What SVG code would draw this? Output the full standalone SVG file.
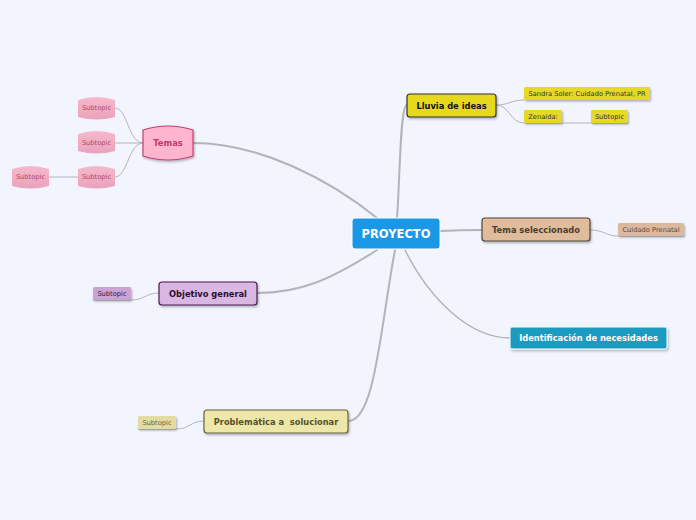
<svg xmlns="http://www.w3.org/2000/svg" width="696" height="520" viewBox="0 0 696 520">
<defs>
<style>
.t{font-family:"DejaVu Sans","Verdana",sans-serif;text-anchor:middle;dominant-baseline:central}
.b{font-weight:bold;font-size:8.3px}
.s{font-size:6.7px}
.c{fill:none;stroke:#b4b4b8;stroke-linecap:round}
</style>
<filter id="sh" x="-10%" y="-10%" width="130%" height="150%"><feDropShadow dx="1" dy="1.5" stdDeviation="0.8" flood-color="#000" flood-opacity="0.3"/></filter>
<linearGradient id="pk" x1="0" y1="0" x2="0" y2="1"><stop offset="0" stop-color="#f7b8cc"/><stop offset="1" stop-color="#e9a3ba"/></linearGradient>
</defs>
<rect width="696" height="520" fill="#f3f5fe"/>
<g id="connectors">
<path class="c" stroke-width="2" d="M377 218 C330 180 260 143 193 143"/>
<path class="c" stroke-width="2" d="M377 250 C330 280 300 293 257 293"/>
<path class="c" stroke-width="2" d="M395 250 C380 330 375 421 348 421"/>
<path class="c" stroke-width="2" d="M397 218 C400 180 400 105 407 105"/>
<path class="c" stroke-width="2" d="M440 231 C460 230 470 230 482 230"/>
<path class="c" stroke-width="1.5" d="M405 250 C430 300 470 338 510 338"/>
<path class="c" stroke-width="1" d="M496 105 C510 105 510 100 524 100"/>
<path class="c" stroke-width="1" d="M496 105 C510 105 510 123 524 123 L628 123"/>
<path class="c" stroke-width="1" d="M590 230 C605 230 605 236 618 236 L684 236"/>
<path class="c" stroke-width="1" d="M143 143 C128 143 128 108 115 108"/>
<path class="c" stroke-width="1" d="M143 143 L115 143"/>
<path class="c" stroke-width="1" d="M143 143 C128 143 128 177 115 177"/>
<path class="c" stroke-width="1" d="M49 177 L78 177"/>
<path class="c" stroke-width="1" d="M159 293 C145 293 145 300 131 300 L93 300"/>
<path class="c" stroke-width="1" d="M204 421 C190 421 190 429 176 429 L138 429"/>
</g>
<g id="proyecto">
<rect x="352" y="218" width="88" height="31" rx="3" fill="#1a98e6" stroke="#ffffff" stroke-width="1"/>
<text class="t" x="396" y="234" fill="#ffffff" font-size="11.5" font-weight="bold">PROYECTO</text>
</g>
<g id="lluvia">
<rect x="407" y="94" width="89" height="23" rx="3" fill="#e6d81e" stroke="#333" stroke-width="1.2" filter="url(#sh)"/>
<text class="t b" x="451.5" y="105.5" fill="#111">Lluvia de ideas</text>
</g>
<g id="sandra">
<rect x="524" y="87" width="126" height="13" rx="1.5" fill="#e5d927" filter="url(#sh)"/>
<text class="t s" x="587" y="93.5" fill="#333">Sandra Soler: Cuidado Prenatal, PR</text>
</g>
<g id="zenaida">
<rect x="524" y="110" width="38" height="13" rx="1.5" fill="#e5d927" filter="url(#sh)"/>
<text class="t s" x="543" y="116.5" fill="#333">Zenaida:</text>
</g>
<g id="zsub">
<rect x="591" y="110" width="37" height="13" rx="1.5" fill="#e5d927" filter="url(#sh)"/>
<text class="t s" x="609.5" y="116.5" fill="#333">Subtopic</text>
</g>
<g id="tema">
<rect x="482" y="218" width="108" height="23" rx="3" fill="#e0bc9c" stroke="#55473a" stroke-width="1.2" filter="url(#sh)"/>
<text class="t b" x="536" y="229.5" fill="#4a3c30">Tema seleccionado</text>
</g>
<g id="cuidado">
<rect x="618" y="223" width="66" height="13" rx="1.5" fill="#dcb89e" filter="url(#sh)"/>
<text class="t s" x="651" y="229.5" fill="#5a4a3c">Cuidado Prenatal</text>
</g>
<g id="identificacion">
<rect x="510" y="327" width="157" height="22" rx="2" fill="#1b9bc1" stroke="#fff" stroke-width="1" filter="url(#sh)"/>
<text class="t b" x="588.5" y="338" fill="#fff">Identificación de necesidades</text>
</g>
<g id="temas">
<path d="M143 130 Q168 122 193 130 L193 156 Q168 164 143 156 Z" fill="#ffb5cd" stroke="#c4406e" stroke-width="1.2" filter="url(#sh)"/>
<text class="t b" x="168" y="143" fill="#c03a6c">Temas</text>
</g>
<g id="sub1">
<path d="M78 100 Q96.5 94 115 100 L115 117 Q96.5 122 78 117 Z" fill="url(#pk)"/>
<text class="t s" x="96.5" y="108" fill="#b04870">Subtopic</text>
</g>
<g id="sub2">
<path d="M78 134 Q96.5 128 115 134 L115 151 Q96.5 156 78 151 Z" fill="url(#pk)"/>
<text class="t s" x="96.5" y="143" fill="#b04870">Subtopic</text>
</g>
<g id="sub3">
<path d="M78 169 Q96.5 163 115 169 L115 186 Q96.5 191 78 186 Z" fill="url(#pk)"/>
<text class="t s" x="96.5" y="177" fill="#b04870">Subtopic</text>
</g>
<g id="sub4">
<path d="M12 169 Q30.5 163 49 169 L49 186 Q30.5 191 12 186 Z" fill="url(#pk)"/>
<text class="t s" x="30.5" y="177" fill="#b04870">Subtopic</text>
</g>
<g id="objetivo">
<rect x="159" y="282" width="98" height="23" rx="3" fill="#dab6e2" stroke="#4a1c52" stroke-width="1.2" filter="url(#sh)"/>
<text class="t b" x="208" y="293.5" fill="#2a0e30">Objetivo general</text>
</g>
<g id="objsub">
<rect x="93" y="287" width="38" height="13" rx="1.5" fill="#cba3d2" filter="url(#sh)"/>
<text class="t s" x="112" y="293.5" fill="#3a1c40">Subtopic</text>
</g>
<g id="problematica">
<rect x="204" y="410" width="144" height="23" rx="3" fill="#ede7a9" stroke="#6a6440" stroke-width="1.2" filter="url(#sh)"/>
<text class="t b" x="276" y="421.5" fill="#55502e" xml:space="preserve">Problemática a  solucionar</text>
</g>
<g id="probsub">
<rect x="138" y="416" width="38" height="13" rx="1.5" fill="#e2dca2" filter="url(#sh)"/>
<text class="t s" x="157" y="422.5" fill="#6a6440">Subtopic</text>
</g>
</svg>
